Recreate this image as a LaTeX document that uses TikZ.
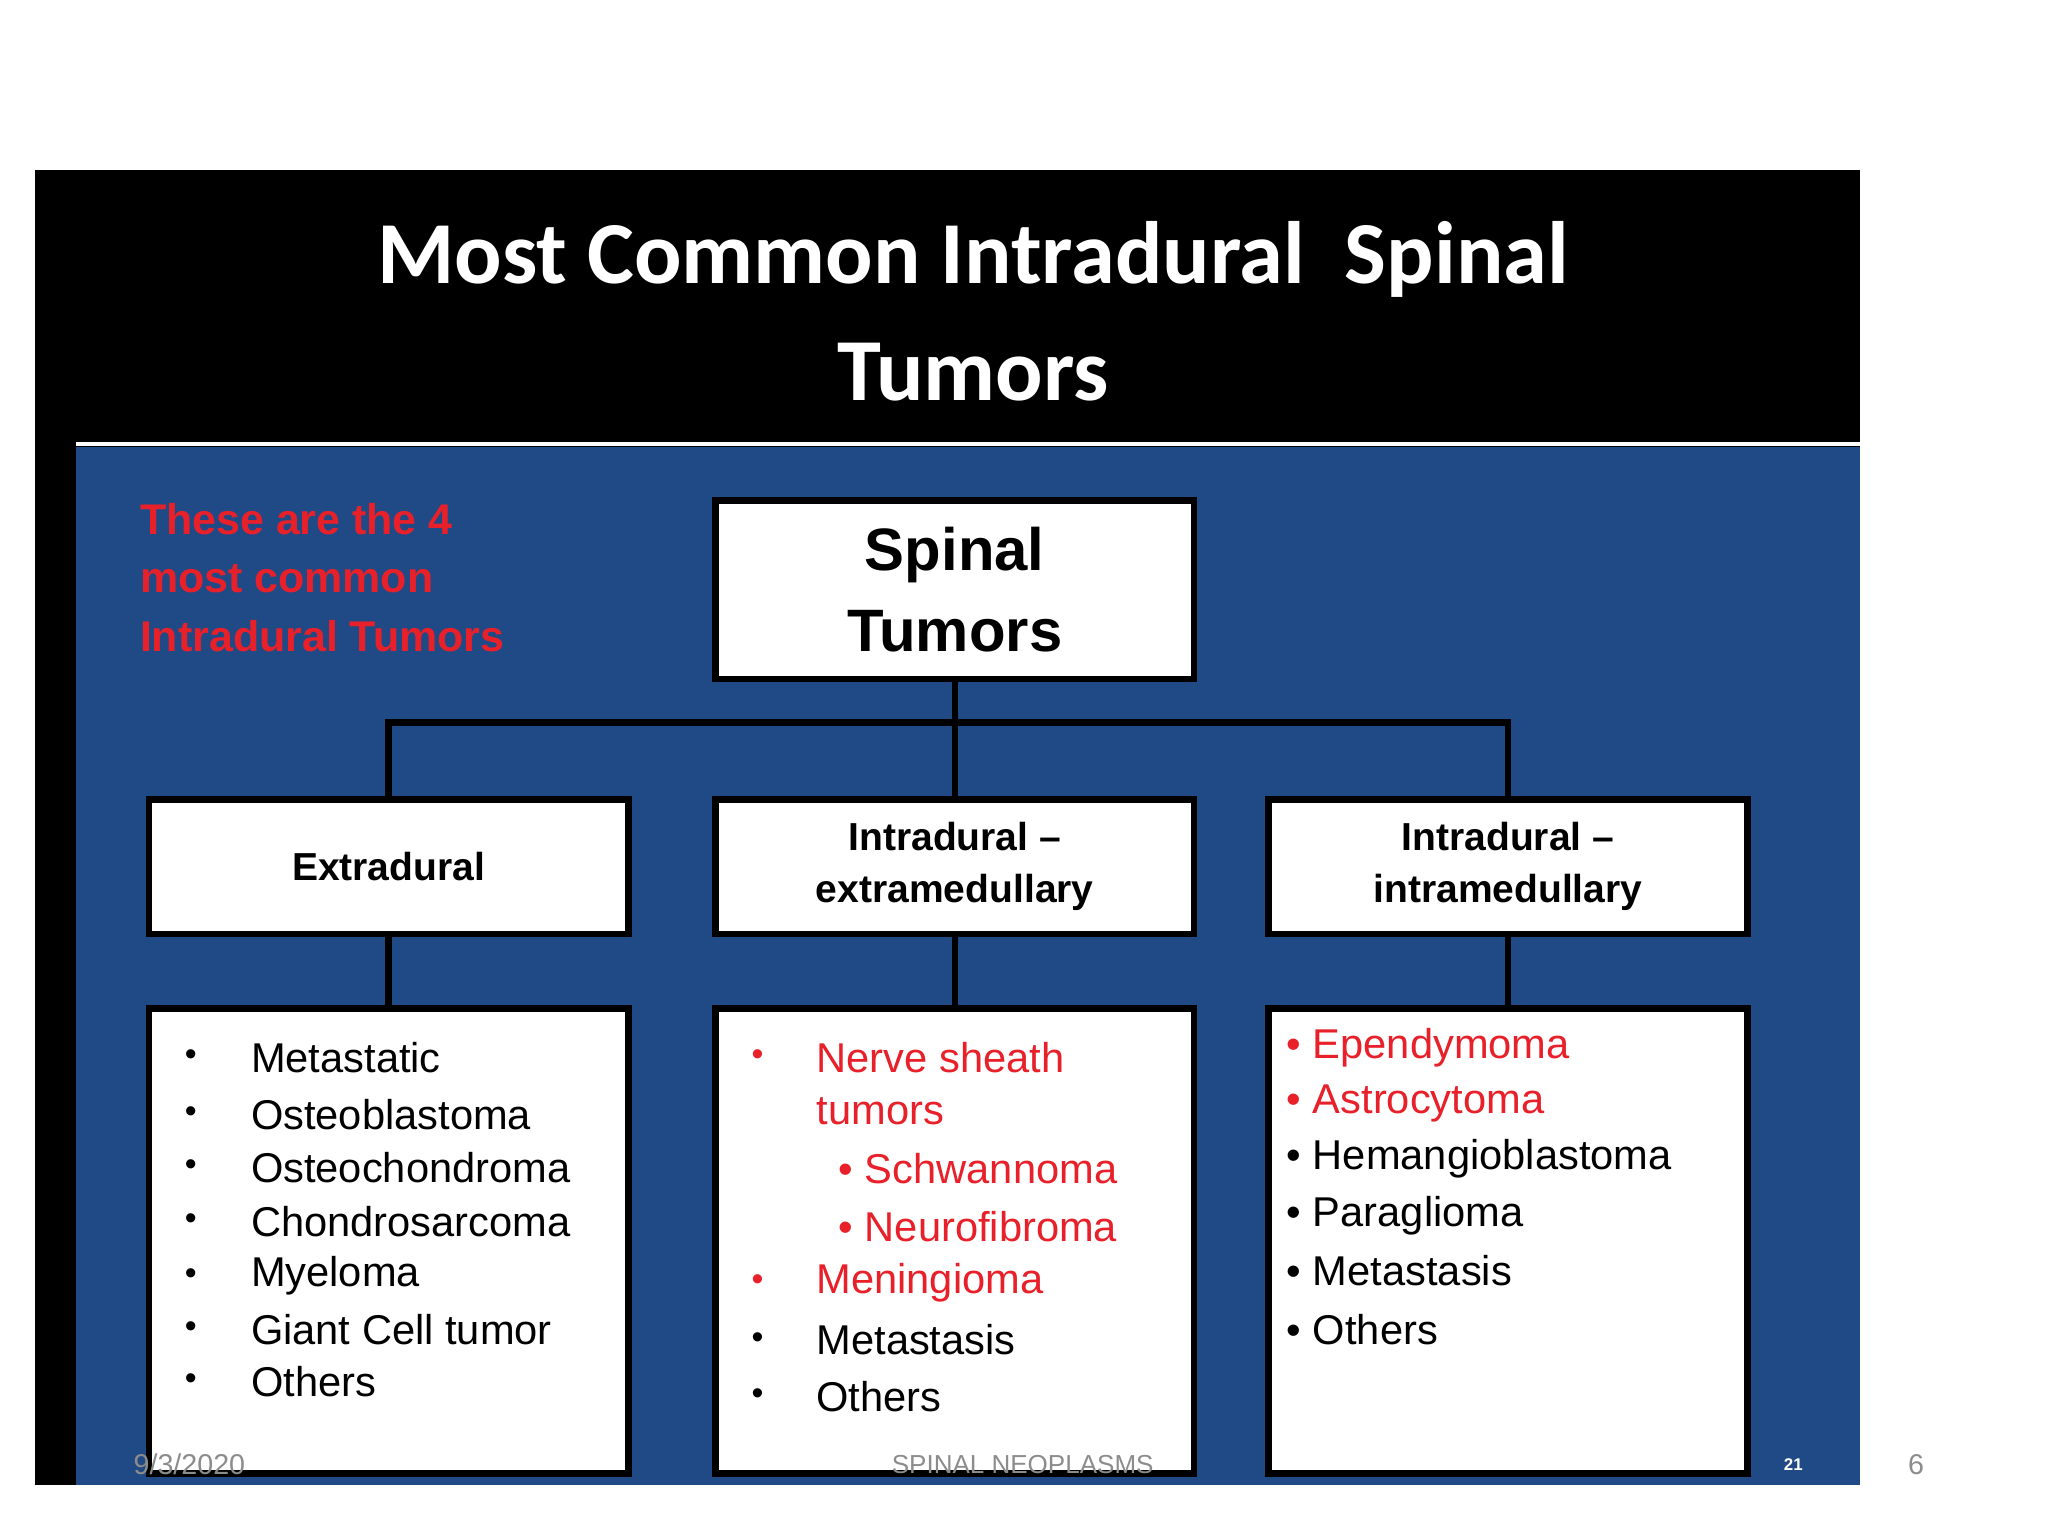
\documentclass[tikz,border=0pt]{standalone}
\usepackage{fontspec}
\setmainfont{Liberation Sans}
\newfontfamily\titlefont{Carlito}
\definecolor{slideblue}{HTML}{1F4A86}
\definecolor{redtxt}{HTML}{E8202A}
\definecolor{foot}{HTML}{8C8C8C}
\begin{document}
\begin{tikzpicture}[x=1bp,y=-1bp,
  box/.style={draw=black,line width=5bp,fill=white,inner sep=0},
  conn/.style={line width=5bp,draw=black},
  li/.style={anchor=west,inner sep=0,font=\fontsize{32}{38}\selectfont},
  rli/.style={li,text=redtxt},
  bul/.style={anchor=center,inner sep=0,font=\fontsize{26}{30}\selectfont}]
\useasboundingbox (0,0) rectangle (1568,1176);
\fill[white] (0,0) rectangle (1568,1176);
\fill[black] (27,130) rectangle (1424,1137);
\fill[slideblue] (58,342) rectangle (1424,1137);
\draw[white,line width=3bp] (58,340) -- (1424,340);
\node[text=white,font=\titlefont\bfseries\fontsize{68}{90}\selectfont,align=center] (title) at (745,238) {Most Common Intradural\ \ Spinal\\Tumors};
\node[anchor=north west,text=redtxt,font=\bfseries\fontsize{33}{45}\selectfont,align=left,inner sep=0] (note) at (107,385) {These are the 4\\most common\\Intradural Tumors};
% boxes
\node[box,minimum width=366bp,minimum height=137bp,font=\bfseries\fontsize{46}{62}\selectfont,align=center] (root) at (731,451.5) {Spinal\\Tumors};
\node[box,minimum width=367bp,minimum height=103bp,font=\bfseries\fontsize{30}{40}\selectfont,align=center] (ext) at (297.5,663.5) {Extradural};
\node[box,minimum width=366bp,minimum height=103bp,font=\bfseries\fontsize{30}{40}\selectfont,align=center] (ie) at (731,663.5) {Intradural --\\extramedullary};
\node[box,minimum width=367bp,minimum height=103bp,font=\bfseries\fontsize{30}{40}\selectfont,align=center] (ii) at (1154.5,663.5) {Intradural --\\intramedullary};
\node[box,minimum width=367bp,minimum height=356bp] (extl) at (297.5,950) {};
\node[box,minimum width=366bp,minimum height=356bp] (iel) at (731,950) {};
\node[box,minimum width=367bp,minimum height=356bp] (iil) at (1154.5,950) {};
\coordinate (j) at (731,553);
\draw[conn] (root.south) -- (j);
\draw[conn] (ext.north) |- (j) -| (ii.north);
\draw[conn] (j) -- (ie.north);
\draw[conn] (ext.south) -- (extl.north);
\draw[conn] (ie.south) -- (iel.north);
\draw[conn] (ii.south) -- (iil.north);
% left list
\foreach \y/\t in {810/Metastatic,853/Osteoblastoma,894/Osteochondroma,935/Chondrosarcoma,977/Myeloma,1018/Giant Cell tumor,1058/Others}{
  \node[bul] at (146,\y) {•};
  \node[li] at (192,\y) {\t};}
% middle list
\node[bul,text=redtxt] at (580,810) {•};
\node[rli] at (625,810) {Nerve sheath};
\node[rli] at (625,851) {tumors};
\node[rli] at (642,895) {• Schwannoma};
\node[rli] at (642,939) {• Neurofibroma};
\node[bul,text=redtxt] at (580,982) {•};
\node[rli] at (625,982) {Meningioma};
\node[bul] at (580,1026) {•};
\node[li] at (625,1026) {Metastasis};
\node[bul] at (580,1069) {•};
\node[li] at (625,1069) {Others};
% right list
\node[rli] at (985,802) {• Ependymoma};
\node[rli] at (985,845) {• Astrocytoma};
\node[li] at (985,887) {• Hemangioblastoma};
\node[li] at (985,931) {• Paraglioma};
\node[li] at (985,973) {• Metastasis};
\node[li] at (985,1018) {• Others};
% footer
\node[text=foot,font=\fontsize{22}{26}\selectfont] (d) at (145,1121) {9/3/2020};
\node[text=foot,font=\fontsize{20}{24}\selectfont] (s) at (783,1121) {SPINAL NEOPLASMS};
\node[text=foot,font=\fontsize{22}{26}\selectfont] (p) at (1467,1121) {6};
\node[text=white,font=\bfseries\fontsize{13}{16}\selectfont] (n) at (1373,1121) {21};
\end{tikzpicture}
\end{document}
